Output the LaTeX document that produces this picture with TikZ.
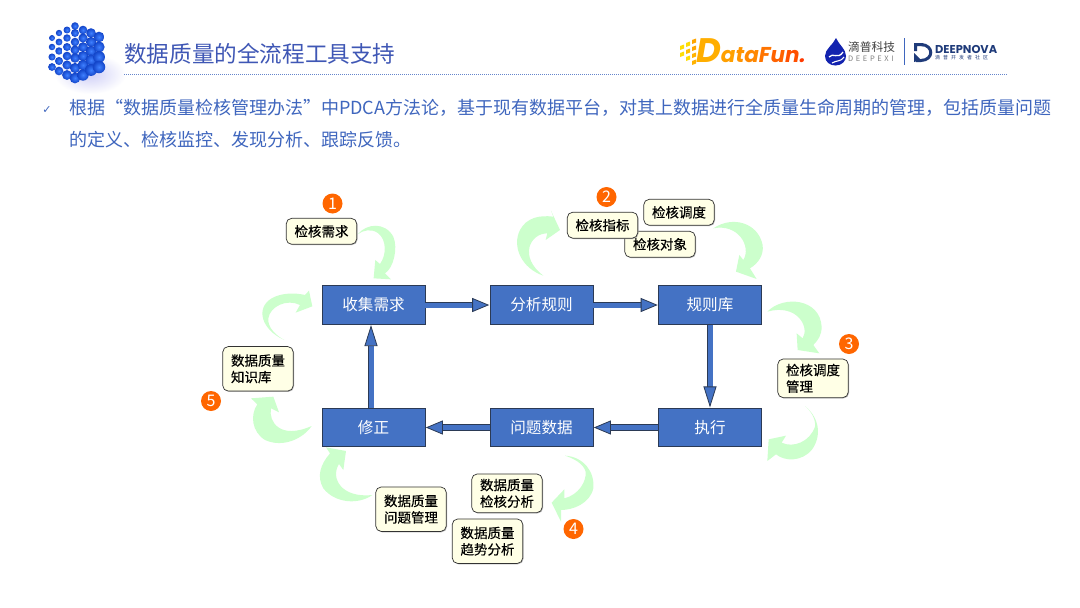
\documentclass[tikz,border=0pt]{standalone}
\usepackage{fontspec}
\setmainfont{Noto Sans CJK SC}
\newfontfamily\notefont[FakeBold=0.3]{Noto Sans CJK SC}
\newfontfamily\logofont{Poppins}
\newfontfamily\symfont{DejaVu Sans}
\usetikzlibrary{arrows.meta,shadows,calc}
\definecolor{titleblue}{HTML}{3F57B5}
\definecolor{bodyblue}{HTML}{3F66BE}
\definecolor{boxblue}{HTML}{4472C4}
\definecolor{boxline}{HTML}{2B3A55}
\definecolor{notefill}{HTML}{FFFFE6}
\definecolor{noteline}{HTML}{333333}
\definecolor{curve}{HTML}{CCFFCC}
\definecolor{badge}{HTML}{FF6600}
\definecolor{ballblue}{HTML}{1244C8}
\definecolor{ballglow}{HTML}{3F80FF}
\definecolor{navy}{HTML}{1F3B7A}
\newcommand{\fs}[1]{\fontsize{#1}{#1}\selectfont}
\tikzset{
  stage/.style={draw=boxline,line width=.8pt,fill=boxblue,minimum width=103pt,minimum height=38.5pt,inner sep=0pt,text=white,font=\fs{15.6}},
  note/.style={draw=noteline,line width=.7pt,fill=notefill,rounded corners=5.5pt,minimum width=70.5pt,inner sep=0pt,align=left,text=black,font=\notefont\fontsize{13.5}{16.5}\selectfont,drop shadow={shadow xshift=.8pt,shadow yshift=-.8pt,fill=gray!70,opacity=.8}},
  oneline/.style={note,minimum height=26pt},
  twoline/.style={note,minimum height=44.5pt},
  numbadge/.style={circle,fill=badge,text=white,minimum size=20pt,inner sep=0pt,font=\fs{16}},
  flow/.style={line width=.8pt,draw=boxline,double=boxblue,double distance=5pt,shorten >=.4pt},
  tiph/.style={-{Triangle[length=17pt,width=14pt,fill=boxblue,color=boxline,line width=.8pt]}},
  tipv/.style={-{Triangle[length=21pt,width=13pt,fill=boxblue,color=boxline,line width=.8pt]}},
  swirl/.style={fill=curve,draw=none},
  zoomed/.style={scale=0.3333},
}
\begin{document}
\begin{tikzpicture}[x=1pt,y=-1pt]
\useasboundingbox (0,0) rectangle (1080,608);
\fill[white] (0,0) rectangle (1080,608);

% cube of spheres
\shade[inner color=gray!30!blue!22,outer color=white,draw=none] (90,74) ellipse (36 and 20);
\foreach \px/\ys in {52/{38,47,57,67},59/{33,42,51,61,71},67/{30,38,47,56,65,75},75/{26,33,42,50,58,68,78},83/{30,38,47,56,65,75},91/{33,42,51,60,70},99/{37,47,57,67}}{
  \foreach \py in \ys {
    \pgfmathsetmacro{\rr}{2.6+(\px-52)/47*2.4+(\py-26)/52*1.6}
    \shade[inner color=ballglow,outer color=ballblue] (\px,\py) circle[radius=\rr];
  }
}

% header
\node[anchor=west,inner sep=0pt,text=titleblue,font=\fs{22.6}] (title) at (124,53.5) {数据质量的全流程工具支持};
\coordinate (ruleL) at (124,74.5);
\coordinate (ruleR) at (1007,74.5);
\draw[bodyblue!80,line width=.7pt,dash pattern=on .9pt off 1.1pt] (ruleL) -- (ruleR);

% DataFun logo
\foreach \sx/\sy/\sc in {680/46/yellow!80!orange,686/43/yellow!80!orange,692/40/orange!70!yellow,680/53/yellow!80!orange,686/50/orange!50!yellow,692/47/orange!70!yellow,686/57/yellow!80!orange,692/54/orange!60!yellow,692/61/orange!60!yellow}{
  \fill[\sc] (\sx,\sy) -- ++(4,-1.5) -- ++(0,4) -- ++(-4,1.5) -- cycle;
}
\node[anchor=base west,inner sep=0pt,font=\logofont\bfseries\itshape\fs{21.5}] (datafun) at (696,62) {\textcolor[HTML]{FFAE00}{\fs{34}D}\textcolor[HTML]{FFA000}{a}\textcolor[HTML]{FF9400}{t}\textcolor[HTML]{FF8800}{a}\textcolor[HTML]{FF7400}{F}\textcolor[HTML]{FF6200}{u}\textcolor[HTML]{FF5000}{n}\textcolor[HTML]{FF3A00}{.}};

% Deepexi logo
\fill[navy!60!blue] (836,38) .. controls (833,45) and (825,49) .. (825,56) .. controls (825,62) and (830,65.5) .. (835.5,65.5) .. controls (842,65.5) and (846,61) .. (846,56) .. controls (846,49) and (839,45) .. (836,38) -- cycle;
\draw[white,line width=1.3pt] (829,57) .. controls (833,52) and (838,60) .. (843,52);
\draw[white,line width=1.1pt] (832,63) .. controls (837,60) and (841,62) .. (844,57);
\node[anchor=west,inner sep=0pt,text=black!75,font=\fs{11.7}] (dpname) at (848,47) {滴普科技};
\node[anchor=west,inner sep=0pt,text=gray,font=\fs{7.5}] (dpen) at (848,59) {D\hspace{2.6pt}E\hspace{2.6pt}E\hspace{2.6pt}P\hspace{2.6pt}E\hspace{2.6pt}X\hspace{2.6pt}I};
\coordinate (barT) at (904,38);
\coordinate (barB) at (904,65);
\draw[bodyblue,line width=.8pt] (barT) -- (barB);
\fill[navy] (914,43) rectangle (923,46) (914,43) rectangle (917,51);
\draw[navy,line width=3pt] (921,44.5) .. controls (934,45) and (934,60) .. (921,60.5) -- (916,60.5);
\fill[navy] (914,53) -- (921,60) -- (914,62) -- cycle;
\node[anchor=west,inner sep=0pt,text=navy,font=\logofont\bfseries\fs{11.4}] (dnname) at (935,49.5) {DEEPNOVA};
\node[anchor=west,inner sep=0pt,text=navy,font=\fs{5}] (dnsub) at (935,58) {滴\hspace{3pt}普\hspace{3pt}开\hspace{3pt}发\hspace{3pt}者\hspace{3pt}社\hspace{3pt}区};

% intro
\node[anchor=center,inner sep=0pt,text=bodyblue,font=\symfont\fs{11}] (tick) at (47,110) {✓};
\node[anchor=west,inner sep=0pt,text=bodyblue,font=\fs{18}] (line1) at (69,108) {根据“数据质量检核管理办法”中PDCA方法论，基于现有数据平台，对其上数据进行全质量生命周期的管理，包括质量问题};
\node[anchor=west,inner sep=0pt,text=bodyblue,font=\fs{18}] (line2) at (69,140) {的定义、检核监控、发现分析、跟踪反馈。};

% curved arrows
\begin{scope}[shift={(190,180)},zoomed]
\fill[swirl] (503,163) .. controls (530,130) and (585,125) .. (610,170) .. controls (625,205) and (610,265) .. (585,280) -- (603,298) -- (551,295) -- (556,240) -- (570,252) .. controls (590,225) and (590,180) .. (565,160) .. controls (545,145) and (520,150) .. (503,163) -- cycle;
\fill[swirl] (283,480) .. controls (215,450) and (195,385) .. (245,355) .. controls (275,338) and (315,338) .. (345,345) -- (357,332) -- (367,379) -- (317,398) -- (330,375) .. controls (290,355) and (240,380) .. (235,415) .. controls (232,440) and (255,465) .. (283,480) -- cycle;
\end{scope}
\begin{scope}[shift={(500,180)},zoomed]
\fill[swirl] (130,287) .. controls (65,265) and (35,200) .. (60,150) .. controls (80,112) and (120,105) .. (160,110) -- (153,92) -- (180,150) -- (137,180) -- (142,160) .. controls (90,160) and (55,230) .. (130,287) -- cycle;
\fill[swirl] (640,145) .. controls (700,105) and (775,130) .. (788,195) .. controls (792,225) and (775,250) .. (750,265) -- (770,297) -- (708,275) -- (718,225) -- (730,240) .. controls (755,200) and (715,130) .. (640,145) -- cycle;
\end{scope}
\begin{scope}[shift={(650,290)},zoomed]
\fill[swirl] (352,65) .. controls (400,15) and (510,25) .. (515,110) .. controls (515,135) and (505,150) .. (490,165) -- (508,190) -- (443,180) -- (440,130) -- (458,145) .. controls (480,110) and (440,40) .. (352,65) -- cycle;
\end{scope}
\begin{scope}[shift={(760,400)},zoomed]
\fill[swirl] (135,18) .. controls (180,55) and (185,110) .. (155,150) .. controls (125,185) and (75,185) .. (48,163) -- (22,183) -- (26,118) -- (78,107) -- (65,128) .. controls (100,145) and (150,125) .. (165,80) .. controls (168,60) and (155,35) .. (135,18) -- cycle;
\end{scope}
\begin{scope}[shift={(545,445)},zoomed]
\fill[swirl] (60,32) .. controls (115,35) and (150,80) .. (145,130) .. controls (135,175) and (85,195) .. (48,195) -- (48,230) -- (20,173) -- (58,133) -- (58,160) .. controls (100,150) and (125,110) .. (122,80) .. controls (115,55) and (85,40) .. (60,32) -- cycle;
\end{scope}
\begin{scope}[shift={(315,440)},zoomed]
\fill[swirl] (33,22) -- (93,33) -- (85,90) -- (72,72) .. controls (45,115) and (80,175) .. (172,165) .. controls (130,195) and (60,190) .. (25,145) .. controls (5,110) and (15,75) .. (45,40) -- cycle;
\end{scope}
\begin{scope}[shift={(240,385)},zoomed]
\fill[swirl] (33,40) -- (100,35) -- (117,82) -- (93,70) .. controls (85,110) and (120,165) .. (215,123) .. controls (190,160) and (130,190) .. (75,165) .. controls (35,140) and (30,90) .. (52,58) -- cycle;
\end{scope}

% stages
\node[stage] (collect) at (373.5,305) {收集需求};
\node[stage] (analyse) at (541.5,305) {分析规则};
\node[stage] (rules)   at (710,305)   {规则库};
\node[stage] (exec)    at (710,427.5) {执行};
\node[stage] (issues)  at (541.5,427.5) {问题数据};
\node[stage] (fix)     at (373.5,427.5) {修正};

% flow arrows
\draw[flow,tiph] (collect.east) -- (analyse.west);
\draw[flow,tiph] (analyse.east) -- (rules.west);
\draw[flow,tipv] (rules.south) -- (exec.north);
\draw[flow,tiph] (exec.west) -- (issues.east);
\draw[flow,tiph] (issues.west) -- (fix.east);
\draw[flow,tipv] ([xshift=-2.5pt]fix.north) -- ([xshift=-2.5pt]collect.south);

% notes
\node[oneline] (n1) at (321.5,231.3) {检核需求};
\node[oneline] (n2c) at (660,244.3) {检核对象};
\node[oneline] (n2a) at (602.5,225.2) {检核指标};
\node[oneline] (n2b) at (679,212.3) {检核调度};
\node[note,minimum height=38.7pt] (n3) at (813,378.3) {检核调度\\管理};
\node[note,minimum height=38.7pt] (n4a) at (507,493.3) {数据质量\\检核分析};
\node[twoline] (n4b) at (487.5,541.2) {数据质量\\趋势分析};
\node[twoline] (n4c) at (411,509.2) {数据质量\\问题管理};
\node[twoline] (n5) at (258,368.8) {数据质量\\知识库};

% badges
\node[numbadge] (b1) at (332.5,203.5) {1};
\node[numbadge] (b2) at (606.5,197) {2};
\node[numbadge] (b3) at (849,344) {3};
\node[numbadge] (b4) at (573.5,529) {4};
\node[numbadge] (b5) at (211,401) {5};
\end{tikzpicture}
\end{document}
